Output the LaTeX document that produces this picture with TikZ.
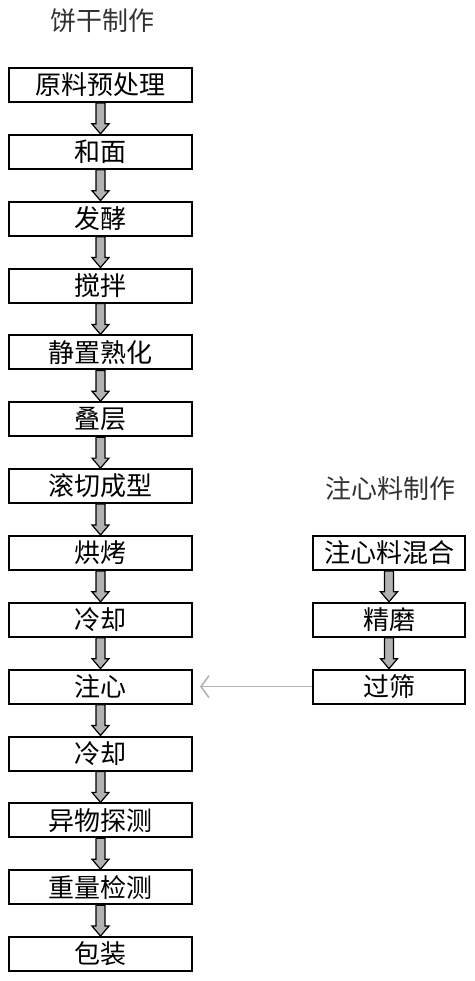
\documentclass[tikz,border=0pt]{standalone}
\usepackage{fontspec}
\setmainfont{Noto Sans CJK SC}
\usetikzlibrary{arrows.meta,calc}

% grey block arrow from the bottom of one stage to the top of the next
\newcommand{\flowarrow}[2]{%
    \draw[flow] let \p1=(#1.south), \p2=(#2.north) in
        (\x1-4.5pt,\y1) -- (\x1-4.5pt,\y2+10pt) -- (\x1-8.5pt,\y2+10pt)
        -- (\x1,\y2) -- (\x1+8.5pt,\y2+10pt) -- (\x1+4.5pt,\y2+10pt)
        -- (\x1+4.5pt,\y1) -- cycle;}

\begin{document}
\begin{tikzpicture}[
        x=1pt, y=1pt,
        stage/.style={draw, line width=2pt, minimum width=183pt,
            minimum height=34pt, inner sep=0pt, font=\fontsize{26}{26}\selectfont},
        title/.style={font=\fontsize{26}{26}\selectfont, text=black!80},
        flow/.style={draw=black, line width=1.2pt, fill=gray!60},
        feed/.style={draw=gray!60, line width=1.6pt,
            -{Straight Barb[length=8pt,width=22pt]}}
    ]
        \useasboundingbox (0, 0) rectangle (474, -981);
        % biscuit line
        \node[title] (bt) at (102, -21) {饼干制作};
        \node[stage] (p1) at (100.5, -85) {原料预处理};
        \node[stage] (p2) at (100.5, -151.85) {和面};
        \node[stage] (p3) at (100.5, -218.7) {发酵};
        \node[stage] (p4) at (100.5, -285.55) {搅拌};
        \node[stage] (p5) at (100.5, -352.4) {静置熟化};
        \node[stage] (p6) at (100.5, -419.25) {叠层};
        \node[stage] (p7) at (100.5, -486.1) {滚切成型};
        \node[stage] (p8) at (100.5, -552.95) {烘烤};
        \node[stage] (p9) at (100.5, -619.8) {冷却};
        \node[stage] (p10) at (100.5, -686.65) {注心};
        \node[stage] (p11) at (100.5, -753.5) {冷却};
        \node[stage] (p12) at (100.5, -820.35) {异物探测};
        \node[stage] (p13) at (100.5, -887.2) {重量检测};
        \node[stage] (p14) at (100.5, -954.05) {包装};
        \flowarrow{p1}{p2}
        \flowarrow{p2}{p3}
        \flowarrow{p3}{p4}
        \flowarrow{p4}{p5}
        \flowarrow{p5}{p6}
        \flowarrow{p6}{p7}
        \flowarrow{p7}{p8}
        \flowarrow{p8}{p9}
        \flowarrow{p9}{p10}
        \flowarrow{p10}{p11}
        \flowarrow{p11}{p12}
        \flowarrow{p12}{p13}
        \flowarrow{p13}{p14}
        % filling line
        \node[title] (ft) at (390, -489) {注心料制作};
        \node[stage, minimum width=152pt] (f1) at (389, -552.95) {注心料混合};
        \node[stage, minimum width=152pt] (f2) at (389, -619.8) {精磨};
        \node[stage, minimum width=152pt] (f3) at (389, -686.65) {过筛};
        \flowarrow{f1}{f2}
        \flowarrow{f2}{f3}
        \draw[feed, shorten >=7pt] (f3.west) -- (p10.east);
    \end{tikzpicture}
\end{document}
